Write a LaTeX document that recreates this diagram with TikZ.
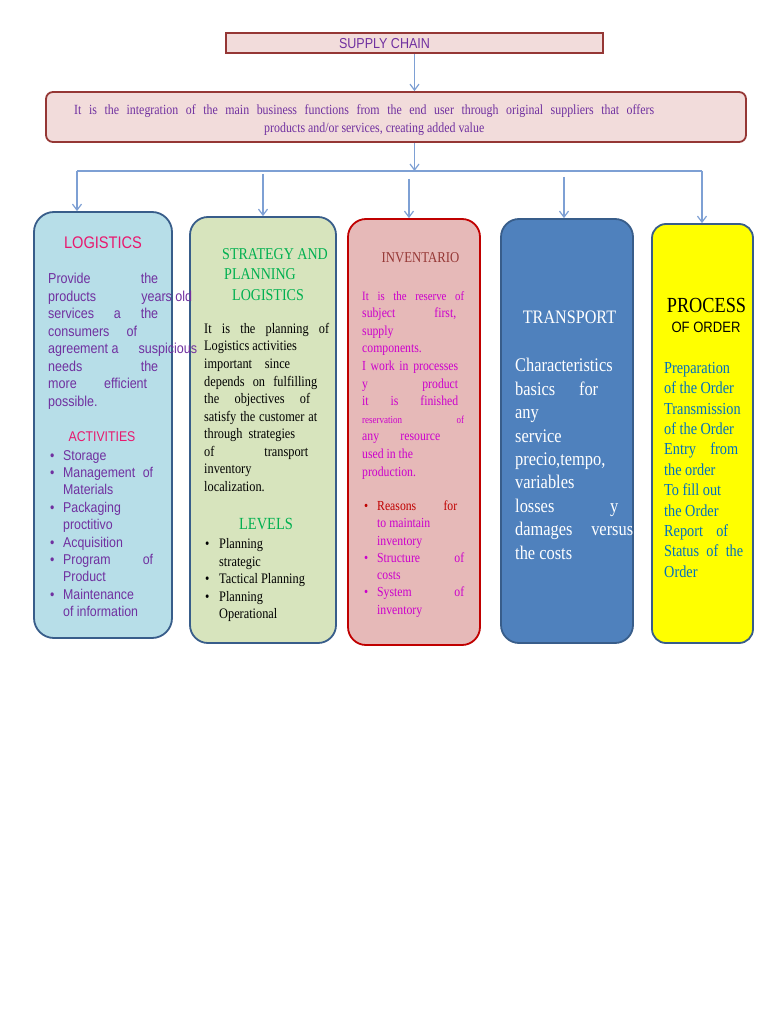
\documentclass[tikz,border=0pt]{standalone}
\usepackage{fontspec}
\setmainfont{Liberation Serif}[FakeStretch=0.85]
\setsansfont{Liberation Sans}[FakeStretch=0.87]
\usepackage{xcolor}
\usepackage{tikz}
\usetikzlibrary{arrows.meta, positioning, calc}
\definecolor{chainpink}{RGB}{242, 220, 219}
\definecolor{chainred}{RGB}{149, 55, 53}
\definecolor{chainpurple}{RGB}{112, 48, 160}
\definecolor{linkblue}{RGB}{126, 160, 212}
\definecolor{frameblue}{RGB}{56, 93, 138}
\definecolor{logifill}{RGB}{183, 222, 232}
\definecolor{stratfill}{RGB}{215, 228, 189}
\definecolor{invfill}{RGB}{230, 185, 184}
\definecolor{invred}{RGB}{192, 0, 0}
\definecolor{transfill}{RGB}{79, 129, 189}
\definecolor{ordfill}{RGB}{255, 255, 0}
\definecolor{hotpink}{RGB}{232, 24, 110}
\definecolor{levelgreen}{RGB}{0, 176, 80}
\definecolor{invmagenta}{RGB}{204, 0, 204}
\definecolor{orderblue}{RGB}{0, 112, 192}
\newcommand{\jl}[2]{\makebox[#1pt][s]{#2}}
\newcommand{\fs}[2]{\fontsize{#1}{#2}\selectfont}
\newcommand{\bul}[1]{\makebox[#1pt][l]{\textbullet}}

\begin{document}
\begin{tikzpicture}[x=1pt, y=-1pt,
    link/.style={-{Straight Barb[length=6pt, width=9pt]}, draw=linkblue, line width=1.2pt},
    column/.style={draw=frameblue, line width=1.8pt, rounded corners=18pt, inner sep=0pt},
    txt/.style={inner sep=0pt, anchor=north west, align=left}]
        \fill[white] (0,0) rectangle (768,1024);
        \useasboundingbox (0,0) rectangle (768,1024);

        % Title and definition
        \node[draw=chainred, fill=chainpink, line width=2.2pt, minimum width=377pt, minimum height=20pt] (chain) at (414.5,43) {};
        \node[font=\sffamily\fs{14.4}{14.4}, text=chainpurple, inner sep=0pt] (chain-txt) at (384.5,43.5) {SUPPLY CHAIN};
        \node[draw=chainred, fill=chainpink, line width=1.8pt, rounded corners=7pt, minimum width=700pt, minimum height=50pt] (def) at (396,117) {};
        \node[txt, font=\fs{14}{18}, text=chainpurple] (def-txt) at (74,104) {\jl{580}{It is the integration of the main business functions from the end user through original suppliers that offers}\\ \hspace*{190pt}products and/or services, creating added value};

        % Columns
        \node[column, fill=logifill, minimum width=138pt, minimum height=426pt, rounded corners=20pt] (logi) at (103,425) {};
        \node[column, fill=stratfill, minimum width=146pt, minimum height=426pt] (strat) at (263,430) {};
        \node[column, fill=invfill, draw=invred, minimum width=132pt, minimum height=426pt] (inv) at (414,432) {};
        \node[column, fill=transfill, minimum width=132pt, minimum height=424pt] (trans) at (567,431) {};
        \node[column, fill=ordfill, minimum width=101pt, minimum height=419pt, rounded corners=14pt] (order) at (702.5,433.5) {};

        % Connectors
        \coordinate (bus) at (414.5,171);
        \coordinate (bus-w) at (77,171);
        \coordinate (bus-e) at (702,171);
        \coordinate (b2) at (263,174);
        \coordinate (b3) at (409,179);
        \coordinate (b4) at (564,177);
        \draw[link] (chain.south) -- (def.north -| chain.south);
        \draw[link] (chain.south |- def.south) -- (bus);
        \draw[draw=linkblue, line width=1.3pt] (bus-w) -- (bus-e);
        \foreach \src/\dst in {bus-w/logi, b2/strat, b3/inv, b4/trans, bus-e/order}
            \draw[link] (\src) -- (\src |- \dst.north);

        % Logistics
        \node[font=\sffamily\fs{16.8}{16.8}, text=hotpink, inner sep=0pt] (logi-head) at (103,243) {LOGISTICS};
        \node[txt, font=\sffamily\fs{14.4}{17.5}, text=chainpurple] (logi-txt) at (48,273) {\jl{110}{Provide\hfill the}\\ \jl{144}{products\hfill years old}\\ \jl{110}{services a the}\\ \jl{89}{consumers of}\\ \jl{149}{agreement a\hfill suspicious}\\ \jl{110}{needs\hfill the}\\ \jl{99}{more efficient}\\ possible.};
        \node[font=\sffamily\fs{14.1}{14.1}, text=hotpink, inner sep=0pt] (acts-head) at (102,437) {ACTIVITIES};
        \node[txt, font=\sffamily\fs{14.2}{17.4}, text=chainpurple] (acts) at (50,450) {\bul{13}Storage\\ \bul{13}\jl{90}{Management of}\\ \hspace*{13pt}Materials\\ \bul{13}Packaging\\ \hspace*{13pt}proctitivo\\ \bul{13}Acquisition\\ \bul{13}\jl{90}{Program of}\\ \hspace*{13pt}Product\\ \bul{13}Maintenance\\ \hspace*{13pt}of information};

        % Strategy and planning
        \node[txt, font=\fs{16.5}{20.5}, text=levelgreen] (strat-head) at (222,248.3) {STRATEGY AND\\ \hspace*{2pt}PLANNING\\ \hspace*{10pt}LOGISTICS};
        \node[txt, font=\fs{14.5}{17.55}] (strat-txt) at (204,323) {\jl{125}{It is the planning of}\\ Logistics activities\\ \jl{86}{important since}\\ \jl{113}{depends on fulfilling}\\ \jl{106}{the objectives of}\\ \jl{113}{satisfy the customer at}\\ \jl{91}{through strategies}\\ \jl{104}{of\hfill transport}\\ inventory\\ localization.};
        \node[font=\fs{17}{17}, text=levelgreen, inner sep=0pt] (levels) at (266,524) {LEVELS};
        \node[txt, font=\fs{14.5}{17.5}] (levels-list) at (205,538.3) {\bul{14}Planning\\ \hspace*{14pt}strategic\\ \bul{14}Tactical Planning\\ \bul{14}Planning\\ \hspace*{14pt}Operational};

        % Inventory
        \node[font=\fs{15}{15}, text=chainred, inner sep=0pt] (inv-head) at (420.5,258) {INVENTARIO};
        \node[txt, font=\fs{13.8}{17.6}, text=invmagenta] (inv-txt) at (362,291) {\jl{102}{\fs{12.7}{17.6}It is the reserve of}\\ \jl{94}{subject\hfill first,}\\ supply\\ components.\\ \jl{96}{I work in processes}\\ \jl{96}{y\hfill product}\\ \jl{96}{it is finished}\\ \jl{102}{\fs{10.6}{17.6}reservation\hfill of}\\ \jl{78}{any resource}\\ used in the\\ production.};
        \node[txt, font=\fs{13.8}{17.3}, text=invmagenta] (inv-list) at (364,500.5) {\textcolor{invred}{\bul{13}\jl{80}{Reasons\hfill for}}\\ \hspace*{13pt}to maintain\\ \hspace*{13pt}inventory\\ \bul{13}\jl{87}{Structure\hfill of}\\ \hspace*{13pt}costs\\ \bul{13}\jl{87}{System\hfill of}\\ \hspace*{13pt}inventory};

        % Transport
        \node[font=\fs{19}{19}, text=white, inner sep=0pt] (trans-head) at (569.5,317) {TRANSPORT};
        \node[txt, font=\fs{19.3}{23.4}, text=white] (trans-txt) at (515,358.3) {Characteristics\\ \jl{83}{basics\hfill for}\\ any\\ service\\ precio,tempo,\\ variables\\ \jl{103}{losses\hfill y}\\ \jl{118}{damages\hfill versus}\\ the costs};

        % Order process
        \node[font=\fs{21.5}{21.5}, inner sep=0pt] (order-head) at (706.5,305) {PROCESS};
        \node[font=\sffamily\fs{15}{15}, inner sep=0pt] (order-sub) at (706,327) {OF ORDER};
        \node[txt, font=\fs{16.8}{20.4}, text=orderblue] (order-txt) at (664,362) {Preparation\\ of the Order\\ Transmission\\ of the Order\\ \jl{74}{Entry\hfill from}\\ the order\\ To fill out\\ the Order\\ \jl{64}{Report\hfill of}\\ \jl{79}{Status of the}\\ Order};
    \end{tikzpicture}
\end{document}
